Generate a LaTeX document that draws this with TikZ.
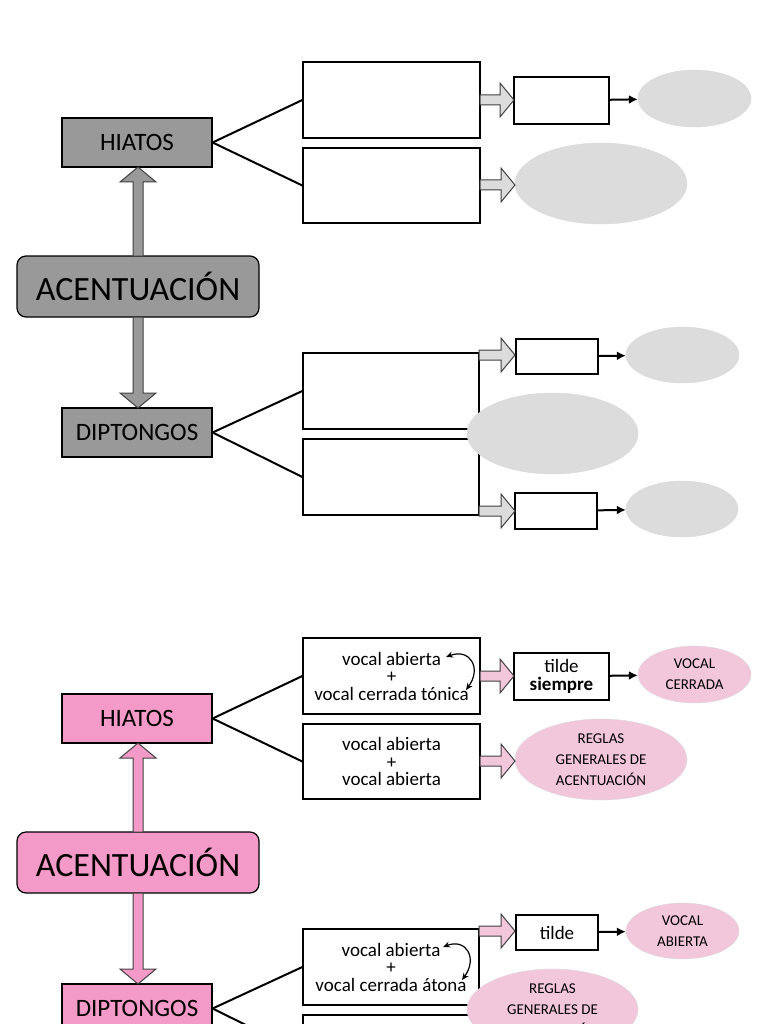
\documentclass[tikz,border=0pt]{standalone}
\usepackage{fontspec}
\setmainfont{Carlito}
\usetikzlibrary{shapes.geometric,arrows.meta}
\definecolor{tgray}{HTML}{999999}
\definecolor{tlight}{HTML}{DCDCDC}
\definecolor{pdark}{HTML}{F49AC9}
\definecolor{plight}{HTML}{F3C7DB}
\newcommand\hblk[4]{\draw[fill=#4,draw=black!75,line width=1pt] (#1,#3-5)--(#2-14,#3-5)--(#2-14,#3-17)--(#2,#3)--(#2-14,#3+17)--(#2-14,#3+5)--(#1,#3+5)--cycle;}
\newcommand\vblk[5]{\draw[fill=#5,draw=black!75,line width=1pt] (#1-5,#2)--(#1-5,#3+#4)--(#1-18,#3+#4)--(#1,#3)--(#1+18,#3+#4)--(#1+5,#3+#4)--(#1+5,#2)--cycle;}
\tikzset{
  box/.style={draw, line width=1.3pt, fill=white, inner sep=0pt, align=center, font=\fontsize{19}{17.5}\selectfont},
  cat/.style={draw, line width=1.2pt, inner sep=0pt, font=\fontsize{25}{26}\selectfont},
  main/.style={draw, line width=1.2pt, rounded corners=9pt, inner sep=0pt, font=\fontsize{34}{36}\selectfont},
  oval/.style={ellipse, draw=black!15, inner sep=0pt, align=center, font=\fontsize{15}{21}\selectfont},
  link/.style={line width=2pt},
  arr/.style={line width=2pt, -{Latex[length=9pt,width=9pt]}},
  curv/.style={line width=1.2pt, {Stealth[length=7pt,width=6pt]}-{Stealth[length=7pt,width=6pt]}}
}
\begin{document}
\begin{tikzpicture}[x=1pt,y=-1pt]
\useasboundingbox (0,0) rectangle (768,1024);
\clip (0,0) rectangle (768,1024);
% ---------- top (empty template) ----------
\node[cat, fill=tgray, minimum width=150, minimum height=49] (th) at (137,142.5) {HIATOS};
\node[main, fill=tgray, minimum width=242, minimum height=61] (ta) at (138,286.5) {ACENTUACIÓN};
\node[cat, fill=tgray, minimum width=150, minimum height=49] (td) at (137,432.5) {DIPTONGOS};
\vblk{138}{256}{167}{15}{tgray}
\vblk{138}{317}{408}{-15}{tgray}
\node[box, minimum width=177, minimum height=76] (th1) at (391.5,100) {};
\node[box, minimum width=177, minimum height=75] (th2) at (391.5,185.5) {};
\draw[link] (th.east) -- (th1.west);
\draw[link] (th.east) -- (th2.west);
\node[box, minimum width=95, minimum height=47] (tt1) at (561.5,100.5) {};
\node[oval, fill=tlight, minimum width=113, minimum height=57] (te1) at (694.5,98.5) {};
\hblk{480}{514}{100}{tlight}
\draw[arr] (tt1) -- (te1);
\node[oval, fill=tlight, minimum width=172, minimum height=81] (te2) at (601,183.5) {};
\hblk{480}{515}{185}{tlight}
\node[box, minimum width=176, minimum height=76] (td1) at (391,391) {};
\node[box, minimum width=176, minimum height=76] (td2) at (391,477) {};
\draw[link] (td.east) -- (td1.west);
\draw[link] (td.east) -- (td2.west);
\node[box, minimum width=82, minimum height=35] (tt2) at (557,356.5) {};
\node[oval, fill=tlight, minimum width=113, minimum height=56] (te3) at (682.5,355) {};
\hblk{479}{515}{355}{tlight}
\draw[arr] (tt2) -- (te3);
\node[oval, fill=tlight, minimum width=171, minimum height=81] (te4) at (552.5,433.5) {};
\node[box, minimum width=82, minimum height=36] (tt3) at (556,511) {};
\node[oval, fill=tlight, minimum width=112, minimum height=56] (te5) at (682,509) {};
\hblk{479}{515}{511}{tlight}
\draw[arr] (tt3) -- (te5);
% ---------- bottom (filled in) ----------
\node[cat, fill=pdark, minimum width=150, minimum height=49] (bh) at (137,718.5) {HIATOS};
\node[main, fill=pdark, minimum width=242, minimum height=61] (ba) at (138,862.5) {ACENTUACIÓN};
\node[cat, fill=pdark, minimum width=150, minimum height=49] (bd) at (137,1008.5) {DIPTONGOS};
\vblk{138}{832}{743}{15}{pdark}
\vblk{138}{893}{984}{-15}{pdark}
\node[box, minimum width=177, minimum height=76] (bh1) at (391.5,676) {vocal abierta\\+\\vocal cerrada tónica};
\node[box, minimum width=177, minimum height=75] (bh2) at (391.5,761.5) {vocal abierta\\+\\vocal abierta};
\draw[link] (bh.east) -- (bh1.west);
\draw[link] (bh.east) -- (bh2.west);
\coordinate (c1) at (446,657);
\coordinate (c2) at (466,690);
\draw[curv] (c1) .. controls (470,648) and (482,668) .. (c2);
\node[box, minimum width=95, minimum height=47] (bt1) at (561.5,676.5) {tilde\\\textbf{siempre}};
\node[oval, fill=plight, minimum width=113, minimum height=57] (be1) at (694.5,674.5) {VOCAL\\CERRADA};
\hblk{480}{514}{676}{plight}
\draw[arr] (bt1) -- (be1);
\node[oval, fill=plight, minimum width=172, minimum height=81] (be2) at (601,759.5) {REGLAS\\GENERALES DE\\ACENTUACIÓN};
\hblk{480}{515}{761}{plight}
\node[box, minimum width=176, minimum height=76] (bd1) at (391,967) {vocal abierta\\+\\vocal cerrada átona};
\node[box, minimum width=176, minimum height=76] (bd2) at (391,1053) {};
\draw[link] (bd.east) -- (bd1.west);
\draw[link] (bd.east) -- (bd2.west);
\coordinate (c3) at (443,947);
\coordinate (c4) at (462,980);
\draw[curv] (c3) .. controls (466,938) and (478,958) .. (c4);
\node[box, minimum width=82, minimum height=35] (bt2) at (557,932.5) {tilde};
\node[oval, fill=plight, minimum width=113, minimum height=56] (be3) at (682.5,931) {VOCAL\\ABIERTA};
\hblk{479}{515}{931}{plight}
\draw[arr] (bt2) -- (be3);
\node[oval, fill=plight, minimum width=171, minimum height=81] (be4) at (552.5,1009.5) {REGLAS\\GENERALES DE\\ACENTUACIÓN};
\end{tikzpicture}
\end{document}
